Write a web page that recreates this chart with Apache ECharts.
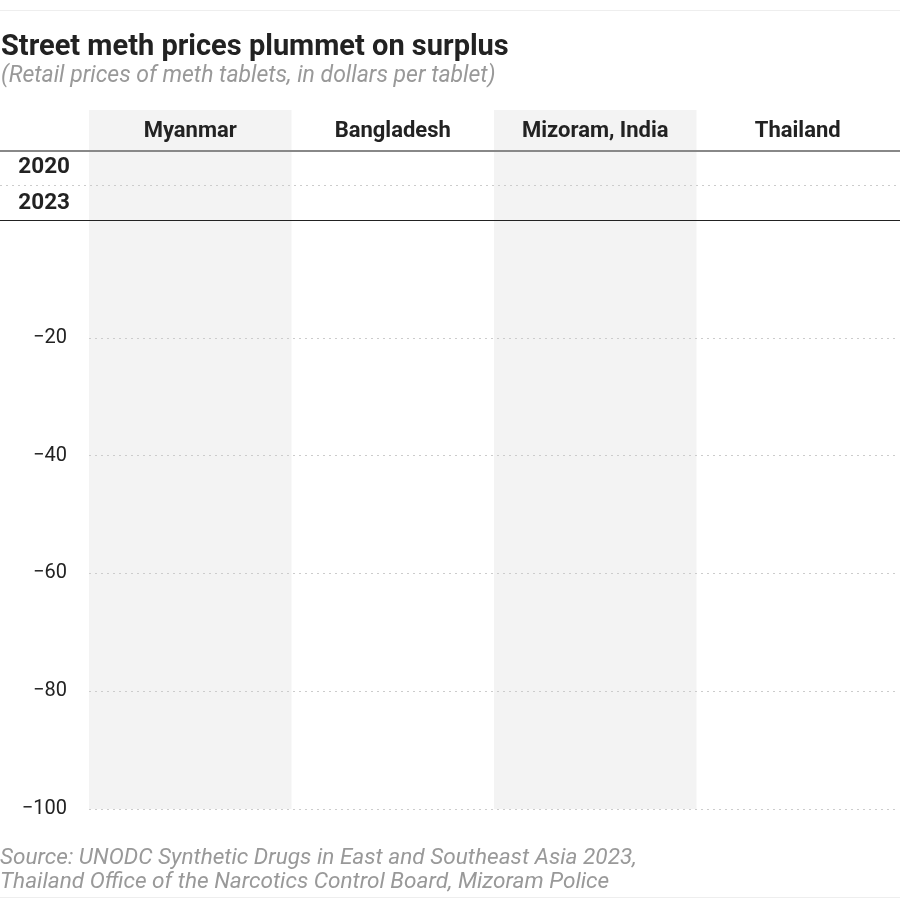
<!DOCTYPE html>
<html>
<head>
<meta charset="utf-8">
<script src="https://cdn.jsdelivr.net/npm/echarts@6/dist/echarts.min.js"></script>
<style>
html,body{margin:0;padding:0;background:#fff;}
#c{width:900px;height:900px;}
</style>
</head>
<body>
<div id="c"></div>
<script>
const countries = ['Myanmar', 'Bangladesh', 'Mizoram, India', 'Thailand'];
const years = ['2020', '2023'];
const prices2020 = [null, null, null, null];
const prices2023 = [null, null, null, null];
const yTicks = [0, -20, -40, -60, -80, -100];

const FONT = 'Roboto';
const chart = echarts.init(document.getElementById('c'), null, {renderer: 'canvas'});
const band = ['#f3f3f3', 'rgba(255,255,255,0)'];

chart.setOption({
  backgroundColor: '#fff',
  animation: false,
  textStyle: {fontFamily: FONT},
  title: {
    text: 'Street meth prices plummet on surplus',
    subtext: '(Retail prices of meth tablets, in dollars per tablet)',
    left: 1, top: 33, itemGap: 3, padding: 0,
    textStyle: {fontFamily: FONT, fontSize: 29, fontWeight: 'bold', color: '#222'},
    subtextStyle: {fontFamily: FONT, fontSize: 23, fontStyle: 'italic', color: '#999'}
  },
  grid: [
    {left: 89, right: 1, top: 110, height: 110},
    {left: 89, right: 1, top: 149, height: 72},
    {left: 89, right: 1, top: 220, bottom: 91}
  ],
  xAxis: [
    {gridIndex: 0, type: 'category', data: countries, position: 'top', z: 0,
     axisLine: {show: false}, axisTick: {show: false},
     axisLabel: {inside: true, margin: 10, fontFamily: FONT, fontSize: 22, fontWeight: 'bold', color: '#222'},
     splitArea: {show: true, areaStyle: {color: band}}},
    {gridIndex: 1, type: 'category', data: countries, show: false},
    {gridIndex: 2, type: 'category', data: countries, z: 0,
     axisLine: {show: false}, axisTick: {show: false}, axisLabel: {show: false},
     splitArea: {show: true, areaStyle: {color: band}}}
  ],
  yAxis: [
    {gridIndex: 0, type: 'value', show: false},
    {gridIndex: 1, type: 'category', data: years, inverse: true, z: 2,
     axisLine: {show: false}, axisTick: {show: false},
     axisLabel: {margin: 19, fontFamily: FONT, fontSize: 22.5, fontWeight: 'bold', color: '#222'}},
    {gridIndex: 2, type: 'value', min: Math.min(...yTicks), max: Math.max(...yTicks), interval: 20, z: 2,
     axisLine: {show: false}, axisTick: {show: false},
     axisLabel: {margin: 22, fontFamily: FONT, fontSize: 20, color: '#222',
       formatter: v => v === 0 ? '' : (v < 0 ? '\u2212' + Math.abs(v) : String(v))},
     splitLine: {show: true, lineStyle: {color: '#cccccc', type: [2, 4], width: 1}}}
  ],
  series: [
    {name: years[0], type: 'bar', xAxisIndex: 2, yAxisIndex: 2, data: prices2020},
    {name: years[1], type: 'bar', xAxisIndex: 2, yAxisIndex: 2, data: prices2023}
  ],
  graphic: [
    {type: 'line', shape: {x1: 0, y1: 10.5, x2: 900, y2: 10.5}, style: {stroke: '#eeeeee', lineWidth: 1}, z: 10},
    {type: 'line', shape: {x1: 0, y1: 151, x2: 900, y2: 151}, style: {stroke: '#888888', lineWidth: 2}, z: 10},
    {type: 'line', shape: {x1: 0, y1: 185.5, x2: 900, y2: 185.5}, style: {stroke: '#cccccc', lineWidth: 1, lineDash: [2, 4]}, z: 10},
    {type: 'line', shape: {x1: 0, y1: 220.5, x2: 900, y2: 220.5}, style: {stroke: '#222222', lineWidth: 1}, z: 10},
    {type: 'text', left: 0, top: 846, z: 10,
     style: {text: 'Source: UNODC Synthetic Drugs in East and Southeast Asia 2023,\nThailand Office of the Narcotics Control Board, Mizoram Police',
       font: 'italic 22.6px Roboto', fill: '#999', lineHeight: 24}},
    {type: 'line', shape: {x1: 0, y1: 897.5, x2: 900, y2: 897.5}, style: {stroke: '#eeeeee', lineWidth: 1}, z: 10}
  ]
});
</script>
</body>
</html>
